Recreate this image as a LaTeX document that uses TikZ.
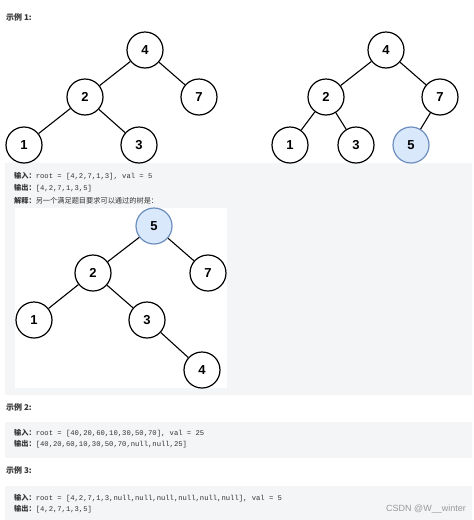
\documentclass[tikz,border=0pt]{standalone}
\usepackage{fontspec}
\setmainfont{Liberation Sans}
\setmonofont{Liberation Mono}
\newfontfamily\cjk{Noto Sans CJK SC}
\usetikzlibrary{positioning, backgrounds}
\definecolor{panelgray}{RGB}{244,245,247}
\definecolor{newfill}{RGB}{218,232,252}
\definecolor{newdraw}{RGB}{108,142,191}
\definecolor{textdark}{RGB}{51,51,51}

\begin{document}
\begin{tikzpicture}[
    x=1pt, y=-1pt,
    treenode/.style={circle, draw=black, line width=1.2pt, fill=white, minimum size=36pt, inner sep=0pt, font=\fontsize{13}{13}\selectfont\bfseries},
    newnode/.style={treenode, draw=newdraw, fill=newfill},
    edge/.style={line width=1.1pt, draw=black},
    heading/.style={anchor=west, inner sep=0pt, font=\cjk\fontsize{8}{8}\selectfont\bfseries, text=textdark},
    codeline/.style={anchor=west, inner sep=0pt, font=\fontsize{7.2}{8}\selectfont, text=textdark},
    panel/.style={fill=panelgray, draw=none}
]
\useasboundingbox[fill=white] (0,0) rectangle (474,520);

% grey panels
\fill[panel] (5,163) rectangle (472,395);
\fill[panel] (5,422) rectangle (472,458);
\fill[panel] (5,486) rectangle (472,520);
\fill[white] (15,208) rectangle (227,388);

\node[heading] (h1) at (6,17) {示例 1:};

% example 1, input tree
\node[treenode] (a4) at (145,50) {4};
\node[treenode] (a2) at (85,97) {2};
\node[treenode] (a7) at (199,97) {7};
\node[treenode] (a1) at (24,145) {1};
\node[treenode] (a3) at (139,145) {3};
\draw[edge] (a4) -- (a2);
\draw[edge] (a4) -- (a7);
\draw[edge] (a2) -- (a1);
\draw[edge] (a2) -- (a3);

% example 1, output tree
\node[treenode] (b4) at (386,50) {4};
\node[treenode] (b2) at (326,97) {2};
\node[treenode] (b7) at (440,97) {7};
\node[treenode] (b1) at (290,145) {1};
\node[treenode] (b3) at (356,145) {3};
\node[newnode] (b5) at (411,145) {5};
\draw[edge] (b4) -- (b2);
\draw[edge] (b4) -- (b7);
\draw[edge] (b2) -- (b1);
\draw[edge] (b2) -- (b3);
\draw[edge] (b7) -- (b5);

\node[codeline] (in1) at (14,176) {{\cjk\bfseries 输入：}\texttt{root = [4,2,7,1,3], val = 5}};
\node[codeline] (out1) at (14,188) {{\cjk\bfseries 输出：}\texttt{[4,2,7,1,3,5]}};
\node[codeline] (exp1) at (14,201) {{\cjk\bfseries 解释：}{\cjk 另一个满足题目要求可以通过的树是：}};

% example 1, other tree
\node[newnode] (c5) at (154,226) {5};
\node[treenode] (c2) at (93,273) {2};
\node[treenode] (c7) at (208,273) {7};
\node[treenode] (c1) at (34,320) {1};
\node[treenode] (c3) at (147,320) {3};
\node[treenode] (c4) at (202,370) {4};
\draw[edge] (c5) -- (c2);
\draw[edge] (c5) -- (c7);
\draw[edge] (c2) -- (c1);
\draw[edge] (c2) -- (c3);
\draw[edge] (c3) -- (c4);

\node[heading] (h2) at (6,407) {示例 2:};
\node[codeline] (in2) at (14,433) {{\cjk\bfseries 输入：}\texttt{root = [40,20,60,10,30,50,70], val = 25}};
\node[codeline] (out2) at (14,444) {{\cjk\bfseries 输出：}\texttt{[40,20,60,10,30,50,70,null,null,25]}};

\node[heading] (h3) at (6,470) {示例 3:};
\node[codeline] (in3) at (14,498) {{\cjk\bfseries 输入：}\texttt{root = [4,2,7,1,3,null,null,null,null,null,null], val = 5}};
\node[codeline] (out3) at (14,509) {{\cjk\bfseries 输出：}\texttt{[4,2,7,1,3,5]}};
\node[anchor=east, inner sep=0pt, font=\fontsize{9}{9}\selectfont, text=black!40] (mark) at (466,509) {CSDN @W\_\_winter};

\end{tikzpicture}
\end{document}
